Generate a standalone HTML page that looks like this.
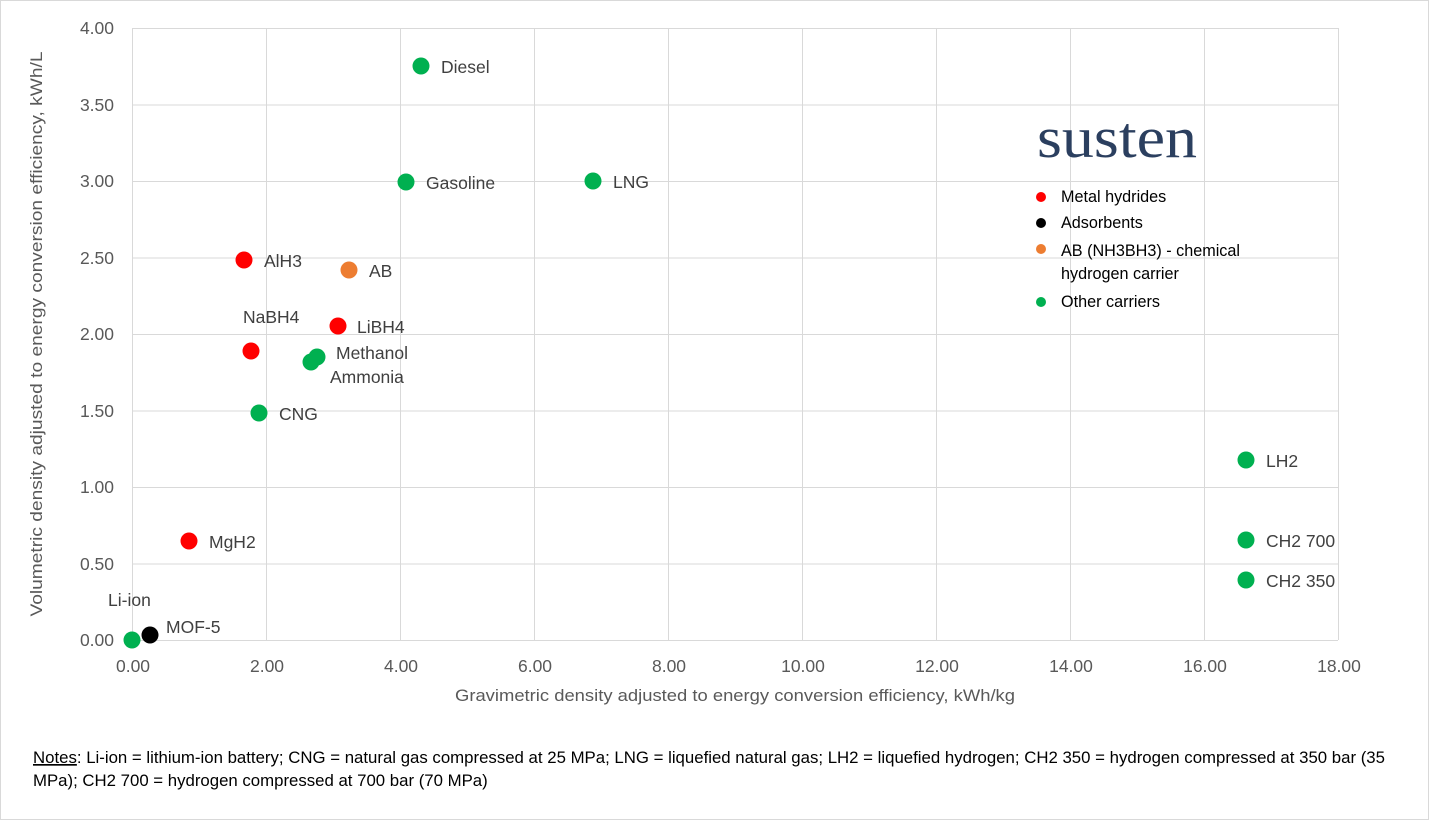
<!DOCTYPE html>
<html><head><meta charset="utf-8"><style>
html,body{margin:0;padding:0;background:#fff}
svg{display:block;font-family:"Liberation Sans",Calibri,sans-serif}
</style></head><body>
<svg width="1429" height="820" viewBox="0 0 1429 820" xmlns="http://www.w3.org/2000/svg">
<rect x="0.5" y="0.5" width="1428" height="819" fill="#fff" stroke="#d9d9d9"/>
<g stroke="#d9d9d9" stroke-width="1">
<line x1="132" y1="28.5" x2="1338" y2="28.5"/>
<line x1="132" y1="105" x2="1338" y2="105"/>
<line x1="132" y1="181.5" x2="1338" y2="181.5"/>
<line x1="132" y1="258" x2="1338" y2="258"/>
<line x1="132" y1="334.5" x2="1338" y2="334.5"/>
<line x1="132" y1="411" x2="1338" y2="411"/>
<line x1="132" y1="487.5" x2="1338" y2="487.5"/>
<line x1="132" y1="564" x2="1338" y2="564"/>
<line x1="132" y1="640.5" x2="1338" y2="640.5"/>
<line x1="132.5" y1="28" x2="132.5" y2="640"/>
<line x1="266.5" y1="28" x2="266.5" y2="640"/>
<line x1="400.5" y1="28" x2="400.5" y2="640"/>
<line x1="534.5" y1="28" x2="534.5" y2="640"/>
<line x1="668.5" y1="28" x2="668.5" y2="640"/>
<line x1="802.5" y1="28" x2="802.5" y2="640"/>
<line x1="936.5" y1="28" x2="936.5" y2="640"/>
<line x1="1070.5" y1="28" x2="1070.5" y2="640"/>
<line x1="1204.5" y1="28" x2="1204.5" y2="640"/>
<line x1="1338.5" y1="28" x2="1338.5" y2="640"/>
</g>
<g fill="#595959" font-size="17.5" text-anchor="end">
<text x="114" y="34">4.00</text><text x="114" y="111">3.50</text><text x="114" y="187">3.00</text>
<text x="114" y="264">2.50</text><text x="114" y="340">2.00</text><text x="114" y="417">1.50</text>
<text x="114" y="493">1.00</text><text x="114" y="570">0.50</text><text x="114" y="646">0.00</text>
</g>
<g fill="#595959" font-size="17.5" text-anchor="middle">
<text x="133" y="672">0.00</text><text x="267" y="672">2.00</text><text x="401" y="672">4.00</text>
<text x="535" y="672">6.00</text><text x="669" y="672">8.00</text><text x="803" y="672">10.00</text>
<text x="937" y="672">12.00</text><text x="1071" y="672">14.00</text><text x="1205" y="672">16.00</text>
<text x="1339" y="672">18.00</text>
</g>
<text x="735" y="701" fill="#595959" font-size="17" text-anchor="middle" textLength="560" lengthAdjust="spacingAndGlyphs">Gravimetric density adjusted to energy conversion efficiency, kWh/kg</text>
<text transform="translate(42,334) rotate(-90)" fill="#595959" font-size="17" text-anchor="middle" textLength="565" lengthAdjust="spacingAndGlyphs">Volumetric density adjusted to energy conversion efficiency, kWh/L</text>
<g fill="#00b050">
<circle cx="421" cy="66" r="8.5"/><circle cx="406" cy="182" r="8.5"/><circle cx="593" cy="181" r="8.5"/>
<circle cx="317" cy="357" r="8.5"/><circle cx="311" cy="362" r="8.5"/><circle cx="259" cy="413" r="8.5"/>
<circle cx="1246" cy="460" r="8.5"/><circle cx="1246" cy="540" r="8.5"/><circle cx="1246" cy="580" r="8.5"/>
<circle cx="132" cy="640" r="8.5"/>
</g>
<g fill="#ff0000">
<circle cx="244" cy="260" r="8.5"/><circle cx="338" cy="326" r="8.5"/><circle cx="251" cy="351" r="8.5"/><circle cx="189" cy="541" r="8.5"/>
</g>
<circle cx="349" cy="270" r="8.5" fill="#ed7d31"/>
<circle cx="150" cy="635" r="8.5" fill="#000"/>
<g fill="#404040" font-size="17.5">
<text x="441" y="73">Diesel</text><text x="426" y="189">Gasoline</text><text x="613" y="188">LNG</text>
<text x="264" y="267">AlH3</text><text x="369" y="277">AB</text><text x="357" y="333">LiBH4</text>
<text x="243" y="323">NaBH4</text><text x="336" y="359">Methanol</text><text x="330" y="383">Ammonia</text>
<text x="279" y="420">CNG</text><text x="1266" y="467">LH2</text><text x="1266" y="547">CH2 700</text>
<text x="1266" y="587">CH2 350</text><text x="209" y="548">MgH2</text><text x="108" y="606">Li-ion</text>
<text x="166" y="633">MOF-5</text>
</g>
<text x="1037" y="157" fill="#2b3f5f" font-family="'Liberation Serif',serif" font-size="58" textLength="160" lengthAdjust="spacingAndGlyphs">susten</text>
<circle cx="1041" cy="197" r="5" fill="#ff0000"/>
<circle cx="1041" cy="223" r="5" fill="#000"/>
<circle cx="1041" cy="249" r="5" fill="#ed7d31"/>
<circle cx="1041" cy="302" r="5" fill="#00b050"/>
<g fill="#000" font-size="16.2">
<text x="1061" y="202">Metal hydrides</text>
<text x="1061" y="228">Adsorbents</text>
<text x="1061" y="256">AB (NH3BH3) - chemical</text>
<text x="1061" y="279">hydrogen carrier</text>
<text x="1061" y="307">Other carriers</text>
</g>
<g fill="#000" font-size="16.8">
<text x="33" y="763" textLength="1352" lengthAdjust="spacingAndGlyphs"><tspan text-decoration="underline">Notes</tspan>: Li-ion = lithium-ion battery; CNG = natural gas compressed at 25 MPa; LNG = liquefied natural gas; LH2 = liquefied hydrogen; CH2 350 = hydrogen compressed at 350 bar (35</text>
<text x="33" y="786">MPa); CH2 700 = hydrogen compressed at 700 bar (70 MPa)</text>
</g>
</svg>
</body></html>
